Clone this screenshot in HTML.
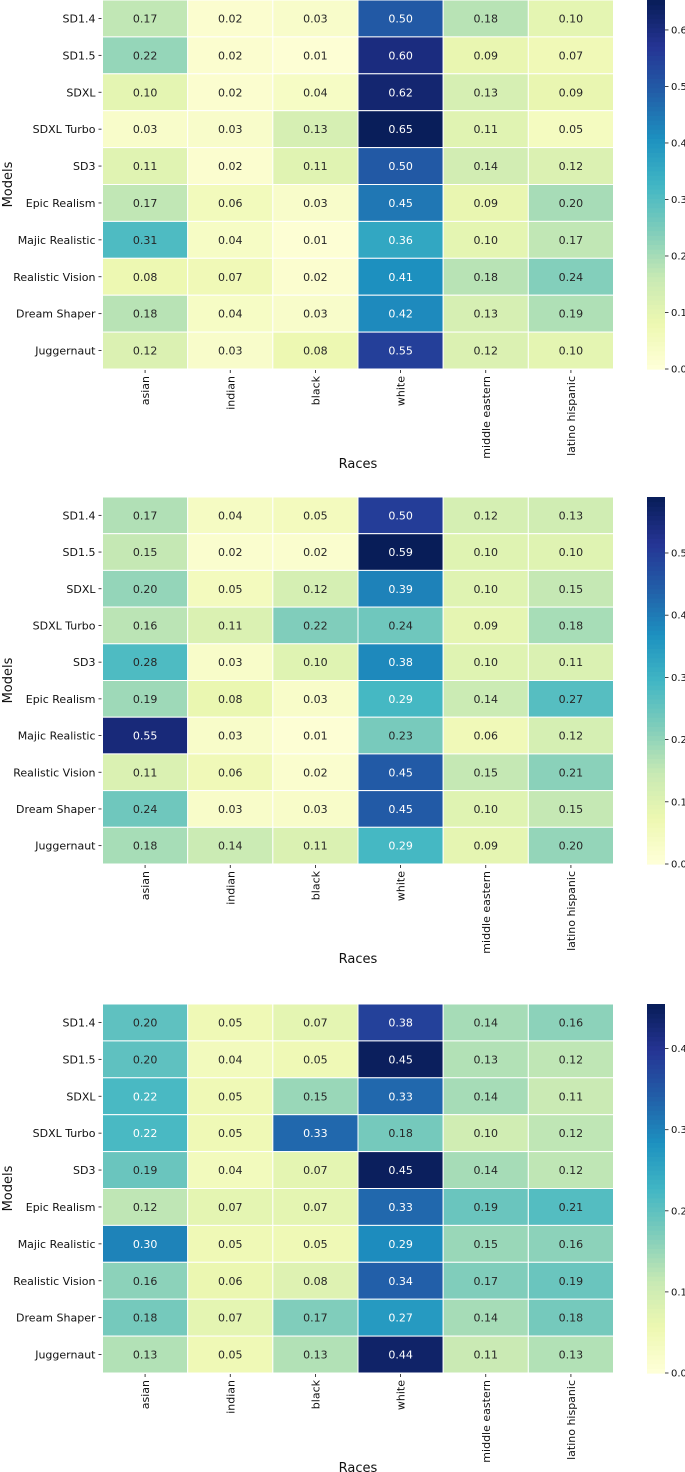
<!DOCTYPE html>
<html><head><meta charset="utf-8">
<style>
html,body{margin:0;padding:0;background:#fff;}
svg{display:block;font-family:"DejaVu Sans","Liberation Sans",sans-serif;}
</style></head>
<body>
<svg id="chart" width="685" height="1472" viewBox="0 0 685 1472" xmlns="http://www.w3.org/2000/svg"></svg>
<script>
const models = ["SD1.4","SD1.5","SDXL","SDXL Turbo","SD3","Epic Realism","Majic Realistic","Realistic Vision","Dream Shaper","Juggernaut"];
const races = ["asian","indian","black","white","middle eastern","latino hispanic"];
const values1 = [
[0.17,0.02,0.03,0.50,0.18,0.10],
[0.22,0.02,0.01,0.60,0.09,0.07],
[0.10,0.02,0.04,0.62,0.13,0.09],
[0.03,0.03,0.13,0.65,0.11,0.05],
[0.11,0.02,0.11,0.50,0.14,0.12],
[0.17,0.06,0.03,0.45,0.09,0.20],
[0.31,0.04,0.01,0.36,0.10,0.17],
[0.08,0.07,0.02,0.41,0.18,0.24],
[0.18,0.04,0.03,0.42,0.13,0.19],
[0.12,0.03,0.08,0.55,0.12,0.10]];
const values2 = [
[0.17,0.04,0.05,0.50,0.12,0.13],
[0.15,0.02,0.02,0.59,0.10,0.10],
[0.20,0.05,0.12,0.39,0.10,0.15],
[0.16,0.11,0.22,0.24,0.09,0.18],
[0.28,0.03,0.10,0.38,0.10,0.11],
[0.19,0.08,0.03,0.29,0.14,0.27],
[0.55,0.03,0.01,0.23,0.06,0.12],
[0.11,0.06,0.02,0.45,0.15,0.21],
[0.24,0.03,0.03,0.45,0.10,0.15],
[0.18,0.14,0.11,0.29,0.09,0.20]];
const values3 = [
[0.20,0.05,0.07,0.38,0.14,0.16],
[0.20,0.04,0.05,0.45,0.13,0.12],
[0.22,0.05,0.15,0.33,0.14,0.11],
[0.22,0.05,0.33,0.18,0.10,0.12],
[0.19,0.04,0.07,0.45,0.14,0.12],
[0.12,0.07,0.07,0.33,0.19,0.21],
[0.30,0.05,0.05,0.29,0.15,0.16],
[0.16,0.06,0.08,0.34,0.17,0.19],
[0.18,0.07,0.17,0.27,0.14,0.18],
[0.13,0.05,0.13,0.44,0.11,0.13]];
const vmax = [0.653, 0.59, 0.455];
const ticks1 = [0.0,0.1,0.2,0.3,0.4,0.5,0.6];
const ticks2 = [0.0,0.1,0.2,0.3,0.4,0.5];
const ticks3 = [0.0,0.1,0.2,0.3,0.4];

const stops = ["#ffffd9","#edf8b1","#c7e9b4","#7fcdbb","#41b6c4","#1d91c0","#225ea8","#253494","#081d58"];
function hex(h){return [1,3,5].map(i=>parseInt(h.substr(i,2),16));}
function cmap(t){t=Math.max(0,Math.min(1,t));const p=t*(stops.length-1);const i=Math.min(stops.length-2,Math.floor(p));const f=p-i;
 const a=hex(stops[i]),b=hex(stops[i+1]);return a.map((v,k)=>Math.round(v+(b[k]-v)*f));}
function lum(c){const l=c.map(v=>{v/=255;return v<=0.03928?v/12.92:Math.pow((v+0.055)/1.055,2.4);});return 0.2126*l[0]+0.7152*l[1]+0.0722*l[2];}
const NS="http://www.w3.org/2000/svg";
const svg=document.getElementById('chart');
function el(tag,attrs,parent){const e=document.createElementNS(NS,tag);for(const k in attrs)e.setAttribute(k,attrs[k]);(parent||svg).appendChild(e);return e;}

function drawHeatmap(data,top,bottom,vm,ticks,idx){
  const left=102.5,right=613.5;
  const g=el('g',{});
  
  
  const cw=(right-left)/races.length, ch=(bottom-top)/models.length;
  const xs=j=>left+j*cw, ys=i=>top+i*ch;
  data.forEach((row,i)=>row.forEach((v,j)=>{
    const c=cmap(v/vm);
    const r=el('rect',{x:xs(j),y:ys(i),width:cw,height:ch,fill:`rgb(${c})`,stroke:'#fff','stroke-width':1},g);
    
    
    const t=el('text',{x:xs(j)+cw/2,y:ys(i)+ch/2+4,'text-anchor':'middle','font-size':11,fill:lum(c)<0.408?'#fff':'#262626'},g);
    t.textContent=v.toFixed(2);
    
    
  }));
  models.forEach((m,i)=>{
    const t=el('text',{x:left-7,y:ys(i)+ch/2+4,'text-anchor':'end','font-size':11,fill:'#111'},g);
    t.textContent=m;
    
    
    el('line',{x1:left-4,x2:left-1,y1:ys(i)+ch/2,y2:ys(i)+ch/2,stroke:'#111','stroke-width':0.8},g);
  });
  races.forEach((r,j)=>{
    const cx=xs(j)+cw/2;
    el('line',{x1:cx,x2:cx,y1:bottom+1,y2:bottom+4,stroke:'#111','stroke-width':0.8},g);
    const t=el('text',{x:0,y:0,'text-anchor':'end','font-size':11,fill:'#111',transform:`translate(${cx+4},${bottom+7}) rotate(-90)`},g);
    t.textContent=r;
    
    
  });
  const xt=el('text',{x:(left+right)/2,y:bottom+99,'text-anchor':'middle','font-size':13,fill:'#111'},g);
  xt.textContent='Races';
  
  
  const yt=el('text',{x:0,y:0,'text-anchor':'middle','font-size':13,fill:'#111',transform:`translate(12,${(top+bottom)/2}) rotate(-90)`},g);
  yt.textContent='Models';
  
  
  // colorbar
  const cbx=647,cbw=18,N=80;
  const cb=el('g',{},g);
  
  
  for(let k=0;k<N;k++){
    const c=cmap((k+0.5)/N);
    el('rect',{x:cbx,y:bottom-(k+1)*(bottom-top)/N,width:cbw,height:(bottom-top)/N+0.6,fill:`rgb(${c})`},cb);
  }
  const ysc=v=>bottom-(v/vm)*(bottom-top);
  ticks.forEach(v=>{
    const y=ysc(v);
    el('line',{x1:cbx+cbw,x2:cbx+cbw+3.5,y1:y,y2:y,stroke:'#111','stroke-width':0.8},cb);
    const t=el('text',{x:cbx+cbw+6,y:y+3.5,'font-size':10,fill:'#111'},cb);
    t.textContent=v.toFixed(1);
    
    
  });
}
drawHeatmap(values1,0,369,vmax[0],ticks1,1);
drawHeatmap(values2,497,864,vmax[1],ticks2,2);
drawHeatmap(values3,1004,1373,vmax[2],ticks3,3);
</script>
</body></html>
